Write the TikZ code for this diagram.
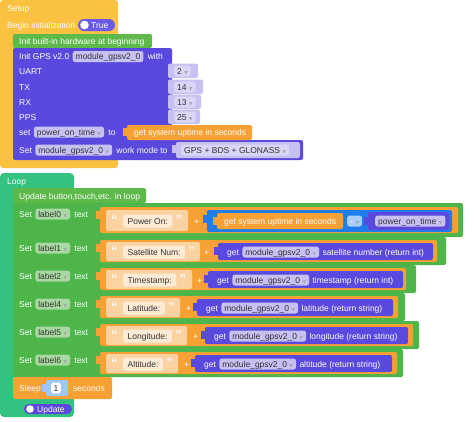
\documentclass[tikz,border=0pt]{standalone}
\usepackage{fontspec}
\setmainfont{Liberation Sans}
\newfontfamily\symfont{DejaVu Sans}
\usetikzlibrary{positioning}
\definecolor{setupcol}{HTML}{FBC141}
\definecolor{loopcol}{HTML}{33C27F}
\definecolor{initcol}{HTML}{5DB94A}
\definecolor{rowcol}{HTML}{4DB54A}
\definecolor{gpscol}{HTML}{5A49DE}
\definecolor{togglecol}{HTML}{6A5AE6}
\definecolor{gpsfield}{HTML}{C7C1F3}
\definecolor{gpsinner}{HTML}{DAD6F8}
\definecolor{joincol}{HTML}{F7A135}
\definecolor{strcol}{HTML}{FBD3A3}
\definecolor{strfield}{HTML}{FDEBD6}
\definecolor{mathcol}{HTML}{1D7EEA}
\definecolor{mathfield}{HTML}{A8CDF6}
\definecolor{numcol}{HTML}{9CC8F2}
\definecolor{labfield}{HTML}{A9D9A2}
\definecolor{fieldtxt}{HTML}{333333}
\newcommand{\ddarrow}{\hspace{2.5pt}{\symfont\fontsize{4.5}{5}\selectfont\textcolor{black!35}{▼}}}

\begin{document}
\begin{tikzpicture}[
  x=1pt, y=-1pt,
  font=\fontsize{8.5}{10}\selectfont,
  btxt/.style={anchor=west, inner sep=0pt, text=white, text height=6pt, text depth=0pt},
  bfield/.style={anchor=west, inner xsep=3pt, inner ysep=0pt, minimum height=11pt, text height=6pt, text depth=0pt, rounded corners=2.5pt, text=fieldtxt, fill=#1},
  bfield/.default=gpsfield,
  sfield/.style={bfield=strfield, inner xsep=4.5pt, minimum height=13pt},
  quote/.style={btxt, text=white!85!strcol, font=\fontsize{13}{13}\selectfont\bfseries}
]
\fill[white] (0,0) rectangle (474,421);
\useasboundingbox (0,0) rectangle (474,421);

% setup
\fill[setupcol, rounded corners=3pt] (0,0) rectangle (118,168);
\node[btxt] (setup) at (7,8) {Setup};
\node[btxt] (begin) at (7,25) {Begin initialization};
\fill[togglecol, rounded corners=6pt] (78,19) rectangle (115,31);
\fill[white] (84.5,25) circle (4.3);
\node[btxt] (true) at (91,25.5) {True};

\fill[initcol, rounded corners=2pt] (13,34) rectangle (152,48);
\node[btxt] (hw) at (19,41) {Init built-in hardware at beginning};

\fill[gpscol, rounded corners=2pt] (13,48) -- (172,48) -- (172,140) -- (303,140) -- (303,160) -- (13,160) -- cycle;
\node[btxt] (init) at (19,56.5) {Init GPS v2.0};
\node[bfield, right=3pt of init] (mod) {module\_gpsv2\_0};
\node[btxt, right=4pt of mod] (with) {with};
\node[btxt] (uart) at (19,71) {UART};
\node[btxt] (tx) at (19,87) {TX};
\node[btxt] (rx) at (19,102) {RX};
\node[btxt] (pps) at (19,117) {PPS};
\foreach \v/\y/\r in {2/71/198, 14/87/203, 13/102/201, 25/117/200}{
  \fill[gpsfield, rounded corners=2pt] (168,\y-7.5) rectangle (\r,\y+7);
  \node[bfield=gpsinner] (num\v) at (174,\y) {\v\ddarrow};
}
\node[btxt] (set) at (19,132) {set};
\node[bfield, right=3pt of set] (pot) {power\_on\_time\ddarrow};
\node[btxt, right=4pt of pot] (to) {to};
\fill[joincol] (123,128) rectangle (127,136);
\fill[joincol, rounded corners=2pt] (127,125) rectangle (252,140);
\node[btxt] (uptime) at (134,132.5) {get system uptime in seconds};
\node[btxt] (setm) at (19,150) {Set};
\node[bfield, right=3pt of setm] (modm) {module\_gpsv2\_0\ddarrow};
\node[btxt, right=4pt of modm] (mode) {work mode to};
\fill[gpsfield] (172,145) rectangle (176,153);
\fill[gpsfield, rounded corners=2pt] (176,142) rectangle (300,158);
\node[bfield=gpsinner] (gnss) at (181,150) {GPS + BDS + GLONASS\ddarrow};

% loop
\fill[loopcol, rounded corners=4pt] (0,173) rectangle (74,417);
\node[btxt] (loop) at (7,181) {Loop};
\fill[initcol, rounded corners=2pt] (13,188) rectangle (146,203);
\node[btxt] (upd) at (19,196) {Update button,touch,etc. in loop};

% label0 row
\fill[rowcol, rounded corners=2pt] (13,203) rectangle (463,237);
\node[btxt] (set0) at (19,214) {Set};
\node[bfield=labfield, right=3pt of set0] (lab0) {label0\ddarrow};
\node[btxt, right=4pt of lab0] (txt0) {text};
\fill[joincol] (96,211) rectangle (100,219);
\fill[joincol, rounded corners=2pt] (100,207) rectangle (458,233);
\fill[strcol, rounded corners=2pt] (106,210) rectangle (188,231);
\node[quote] (qa0) at (111,221) {“};
\node[sfield] (str0) at (123,221) {Power On:};
\node[quote, right=3pt of str0] (qb0) {”};
\node[btxt] (plus0) at (194,221) {+};
\fill[mathcol] (203,215) rectangle (207,223);
\fill[mathcol, rounded corners=2pt] (207,210) rectangle (452,232);
\fill[joincol] (213,217) rectangle (217,225);
\fill[joincol, rounded corners=2pt] (217,213) rectangle (343,229);
\node[btxt] (up0) at (224,221) {get system uptime in seconds};
\node[bfield=mathfield, text=white] (op0) at (347,221) {-\ddarrow};
\fill[gpscol] (364,217) rectangle (368,225);
\fill[gpscol, rounded corners=2pt] (368,212) rectangle (449,230);
\node[bfield] (var0) at (375,221) {power\_on\_time\ddarrow};

% other label rows
\foreach \n/\lab/\top/\gr/\orr/\tbr/\str/\plx/\gx/\gpr/\what in {
  1/label1/237/446/437/200/Satellite Num:/204/218/433/satellite number (return int),
  2/label2/265/416/406/192/Timestamp:/197/208/403/timestamp (return int),
  3/label4/293/405/398/180/Latitude:/186/197/393/latitude (return string),
  4/label5/321/419/413/187/Longitude:/193/205/408/longitude (return string),
  5/label6/349/403/397/178/Altitude:/184/195/392/altitude (return string)}{
  \fill[rowcol, rounded corners=2pt] (13,\top) rectangle (\gr,\top+28);
  \node[btxt] (set\n) at (19,\top+11) {Set};
  \node[bfield=labfield, right=3pt of set\n] (lab\n) {\lab\ddarrow};
  \node[btxt, right=4pt of lab\n] (txt\n) {text};
  \fill[joincol] (96,\top+7) rectangle (100,\top+15);
  \fill[joincol, rounded corners=2pt] (100,\top+3) rectangle (\orr,\top+25);
  \fill[strcol, rounded corners=2pt] (106,\top+5) rectangle (\tbr,\top+24);
  \node[quote] (qa\n) at (111,\top+15) {“};
  \node[sfield] (str\n) at (123,\top+15) {\str};
  \node[quote, right=3pt of str\n] (qb\n) {”};
  \node[btxt] (plus\n) at (\plx,\top+15) {+};
  \fill[gpscol] (\gx-4,\top+10) rectangle (\gx,\top+18);
  \fill[gpscol, rounded corners=2pt] (\gx,\top+6) rectangle (\gpr,\top+23);
  \node[btxt] (get\n) at (\gx+9,\top+15) {get};
  \node[bfield, right=3pt of get\n] (gm\n) {module\_gpsv2\_0\ddarrow};
  \node[btxt, right=3pt of gm\n] (what\n) {\what};
}

% sleep
\fill[joincol, rounded corners=2pt] (13,377) rectangle (112,399);
\node[btxt] (sleep) at (19,388) {Sleep};
\fill[numcol] (42,384) rectangle (46,392);
\fill[numcol, rounded corners=2pt] (46,380) rectangle (68,396);
\node[bfield=white, inner xsep=2.5pt] (one) at (51,388) {1};
\node[btxt] (secs) at (73,388) {seconds};

% update toggle
\fill[gpscol, rounded corners=5pt] (24,404) rectangle (72,414);
\fill[white] (30,409) circle (3.8);
\node[btxt] (update) at (37,409.5) {Update};
\end{tikzpicture}
\end{document}
